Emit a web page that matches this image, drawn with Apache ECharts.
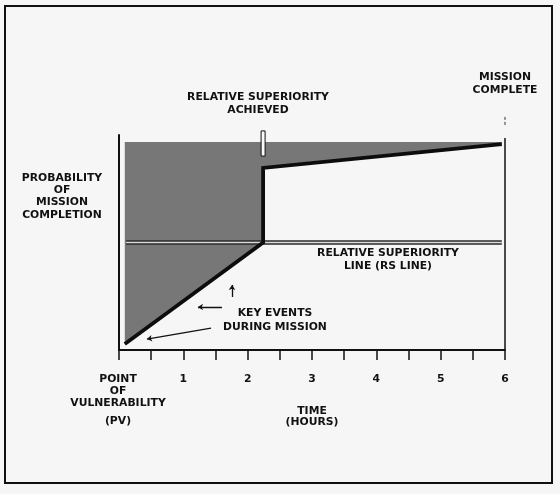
<!DOCTYPE html>
<html>
<head>
<meta charset="utf-8">
<script src="https://cdn.jsdelivr.net/npm/echarts@6/dist/echarts.min.js"></script>
<style>
html,body{margin:0;padding:0;background:#f6f6f6;}
#c{width:560px;height:494px;}
</style>
</head>
<body>
<div id="c"></div>
<script>
// Data (x = time in hours, y = probability of mission completion, 0..1)
var grayRegion = [[0.09,0.967],[5.95,0.967],[5.95,0.958],[2.24,0.847],[2.24,0.5],[0.09,0.028]];
var missionLine = [[0.09,0.028],[2.24,0.5],[2.24,0.847],[5.95,0.958]];
var rsLine = [[0.11,0.5],[5.95,0.5]];
var rsMarker = [2.24, 0.902, 1.019];
var completeLine = [[6,0],[6,0.986]];
var completeDash = [[6,1.047],[6,1.084]];
var keyEventArrows = [
  [[1.757,0.247],[1.757,0.302]],
  [[1.60,0.2],[1.228,0.2]],
  [[1.43,0.102],[0.435,0.051]]
];
var tickLabels = ['', '1', '2', '3', '4', '5', '6'];

var FONT = 'DejaVu Sans';
var FS = 10.8;
function txt(text, x, y, lh) {
  return {type:'text', x:x, y:y, style:{text:text, fill:'#111', font:'bold ' + FS + 'px "' + FONT + '"',
    textAlign:'center', textVerticalAlign:'middle', lineHeight:lh || 13}};
}

var chart = echarts.init(document.getElementById('c'));
chart.setOption({
  backgroundColor:'#f6f6f6',
  animation:false,
  grid:{left:119, right:55, top:135, bottom:144},
  xAxis:{type:'value', min:0, max:6, interval:0.5,
    axisLine:{show:true, lineStyle:{color:'#111', width:2}},
    axisTick:{show:true, length:10, lineStyle:{color:'#111', width:1.5}},
    splitLine:{show:false},
    axisLabel:{margin:24, color:'#111', fontFamily:FONT, fontWeight:'bold', fontSize:FS,
      formatter:function(v){ return (v % 1 === 0) ? tickLabels[v] : ''; }}
  },
  yAxis:{type:'value', min:0, max:1,
    axisLine:{show:true, lineStyle:{color:'#111', width:2}},
    axisTick:{show:false}, axisLabel:{show:false}, splitLine:{show:false}
  },
  series:[
    {type:'custom', clip:false, silent:true,
      renderItem:function(params, api){
        var pts = grayRegion.map(function(p){ return api.coord(p); });
        return {type:'polygon', shape:{points:pts}, style:{fill:'#777777'}};
      },
      data:[0]
    },
    {type:'line', data:rsLine, symbol:'none', lineStyle:{color:'#2a2a2a', width:4.5}, z:3},
    {type:'line', data:rsLine, symbol:'none', lineStyle:{color:'#dcdcdc', width:1.6}, z:4},
    {type:'line', data:missionLine, symbol:'none', lineStyle:{color:'#0d0d0d', width:3.8, join:'miter'}, z:5},
    {type:'line', data:completeLine, symbol:'none', lineStyle:{color:'#111', width:1.5}, z:5},
    {type:'line', data:completeDash, symbol:'none', clip:false, lineStyle:{color:'#333', width:1, type:[3,2]}, z:5},
    {type:'custom', clip:false, silent:true, z:6,
      renderItem:function(params, api){
        var a = api.coord([rsMarker[0], rsMarker[2]]);
        var b = api.coord([rsMarker[0], rsMarker[1]]);
        return {type:'rect', shape:{x:a[0]-2, y:a[1], width:4, height:b[1]-a[1]},
          style:{fill:'#fafafa', stroke:'#111', lineWidth:1}};
      },
      data:[0]
    },
    {type:'lines', coordinateSystem:'cartesian2d', symbol:['none','arrow'], symbolSize:5, z:6,
      lineStyle:{color:'#111', width:1.3, opacity:1},
      data:keyEventArrows.map(function(c){ return {coords:c}; })
    }
  ],
  graphic:[
    {type:'rect', shape:{x:5, y:6, width:547, height:477}, style:{fill:'none', stroke:'#111', lineWidth:2}},
    txt('RELATIVE SUPERIORITY\nACHIEVED', 258, 103.5, 13),
    txt('MISSION\nCOMPLETE', 505, 83.5, 13),
    txt('PROBABILITY\nOF\nMISSION\nCOMPLETION', 62, 196.5, 12.3),
    txt('RELATIVE SUPERIORITY\nLINE (RS LINE)', 388, 259.5, 13),
    txt('KEY EVENTS\nDURING MISSION', 275, 320, 14),
    txt('TIME\n(HOURS)', 312, 417, 11),
    txt('POINT\nOF\nVULNERABILITY', 118, 391, 12),
    txt('(PV)', 118, 421, 12)
  ]
});
</script>
</body>
</html>
